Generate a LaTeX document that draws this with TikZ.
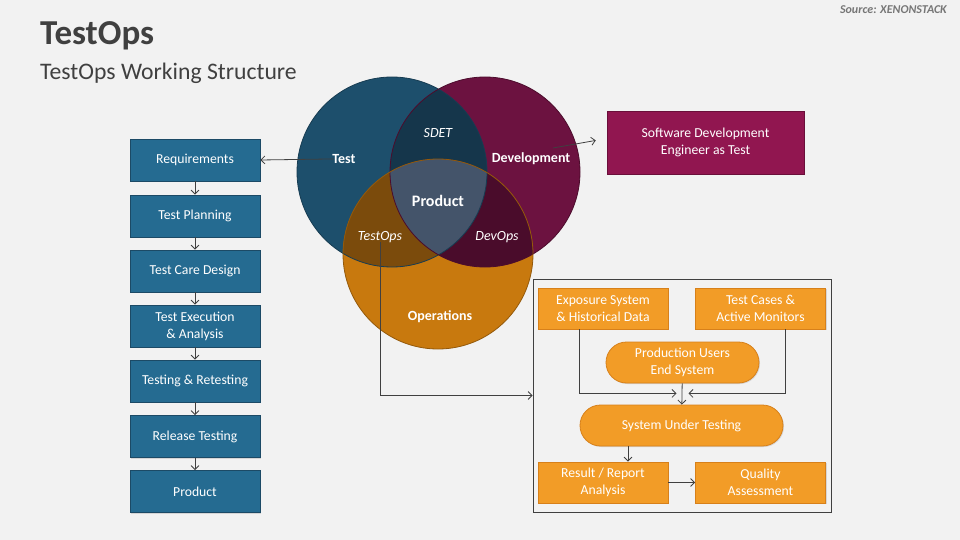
\documentclass[tikz,border=0pt]{standalone}
\usepackage{fontspec}
\setmainfont{Carlito}
\usetikzlibrary{arrows.meta,shapes.misc,shadows,calc}
\definecolor{bg}{HTML}{F2F2F2}
\definecolor{ink}{HTML}{404040}
\definecolor{srcgray}{HTML}{767676}
\definecolor{testc}{HTML}{1D4F6C}
\definecolor{testedge}{HTML}{173C52}
\definecolor{devc}{HTML}{6C1240}
\definecolor{devedge}{HTML}{4C0C2C}
\definecolor{opsc}{HTML}{C8790E}
\definecolor{opsedge}{HTML}{94590A}
\definecolor{sdetc}{HTML}{15364B}
\definecolor{testopsc}{HTML}{7B4B0C}
\definecolor{devopsc}{HTML}{4A0C2B}
\definecolor{prodc}{HTML}{44546A}
\definecolor{bluebox}{HTML}{256B91}
\definecolor{blueedge}{HTML}{1C4A66}
\definecolor{sdebox}{HTML}{911650}
\definecolor{sdeedge}{HTML}{6A0F3A}
\definecolor{orangebox}{HTML}{F29C27}
\definecolor{orangeedge}{HTML}{D7801A}
\tikzset{
  boxtext/.style={font=\fontsize{13.7}{17}\selectfont, text=white, align=center},
  stepbox/.style={boxtext, draw=blueedge, fill=bluebox, line width=0.8pt, minimum width=130pt, minimum height=42pt, inner sep=0pt, drop shadow={opacity=0.25, shadow xshift=1pt, shadow yshift=-1pt}},
  orangebox/.style={boxtext, draw=orangeedge, fill=orangebox, line width=0.8pt, minimum width=130pt, minimum height=41pt, inner sep=0pt, drop shadow={opacity=0.25, shadow xshift=1pt, shadow yshift=-1pt}},
  pill/.style={orangebox, rounded rectangle},
  vbold/.style={font=\fontsize{14}{16}\selectfont\bfseries, text=white},
  vital/.style={font=\fontsize{14}{16}\selectfont\itshape, text=white},
  conn/.style={draw=ink, line width=0.8pt},
  arr/.style={conn, -{Straight Barb[length=4pt,width=8pt]}},
}
\begin{document}
\begin{tikzpicture}[x=1pt,y=-1pt]
\useasboundingbox (0,0) rectangle (960,540);
\fill[bg] (0,0) rectangle (960,540);

% titles
\node[anchor=base west, inner sep=0pt, text=ink, font=\fontsize{35}{40}\selectfont\bfseries] (title) at (40,45) {TestOps};
\node[anchor=base west, inner sep=0pt, text=ink, font=\fontsize{23.7}{28}\selectfont] (subtitle) at (40,80) {TestOps Working Structure};
\node[anchor=base east, inner sep=0pt, text=srcgray, font=\fontsize{12}{14}\selectfont\bfseries\itshape] (source) at (947,14) {Source: XENONSTACK};

% Venn
\coordinate (T) at (392,172);
\coordinate (D) at (485,172);
\coordinate (O) at (438,254);
\fill[testc] (T) circle[radius=95];
\fill[devc] (D) circle[radius=95];
\fill[opsc] (O) circle[radius=95];
\begin{scope}\clip (T) circle[radius=95]; \fill[sdetc] (D) circle[radius=95];\end{scope}
\begin{scope}\clip (T) circle[radius=95]; \fill[testopsc] (O) circle[radius=95];\end{scope}
\begin{scope}\clip (D) circle[radius=95]; \fill[devopsc] (O) circle[radius=95];\end{scope}
\begin{scope}\clip (T) circle[radius=95]; \clip (D) circle[radius=95]; \fill[prodc] (O) circle[radius=95];\end{scope}
\draw[testedge, line width=0.8pt] (T) circle[radius=95];
\draw[devedge, line width=0.8pt] (D) circle[radius=95];
\draw[opsedge, line width=0.8pt] (O) circle[radius=95];

\node[vbold] (testlbl) at (344,159) {Test};
\node[vbold] (devlbl) at (531,159) {Development};
\node[vital] (sdet) at (438,133) {SDET};
\node[font=\fontsize{16}{18}\selectfont\bfseries, text=white] (product) at (438,201) {Product};
\node[vital] (testops) at (380,237) {TestOps};
\node[vital] (devops) at (497,237) {DevOps};
\node[vbold] (ops) at (440,317) {Operations};

% left column
\node[stepbox] (req) at (195,160) {Requirements};
\node[stepbox] (plan) at (195,216) {Test Planning};
\node[stepbox] (design) at (195,271) {Test Care Design};
\node[stepbox] (exec) at (195,326) {Test Execution\\\& Analysis};
\node[stepbox] (retest) at (195,381) {Testing \& Retesting};
\node[stepbox] (release) at (195,436.5) {Release Testing};
\node[stepbox] (prodbox) at (195,491.5) {Product};
\draw[arr, shorten <=-5pt] (testlbl.west) -- (req.east);
\draw[arr] (req) -- (plan);
\draw[arr] (plan) -- (design);
\draw[arr] (design) -- (exec);
\draw[arr] (exec) -- (retest);
\draw[arr] (retest) -- (release);
\draw[arr] (release) -- (prodbox);

% SDE box
\node[boxtext, draw=sdeedge, fill=sdebox, line width=0.8pt, minimum width=197pt, minimum height=63pt, inner sep=0pt, drop shadow={opacity=0.25, shadow xshift=1pt, shadow yshift=-1pt}] (sde) at (705.5,142.5) {Software Development\\Engineer as Test};
\coordinate (devstart) at (553,148);
\draw[arr, shorten >=11pt] (devstart) -- ($(sde.west)+(0,-4)$);

% right container
\node[draw=ink, line width=0.8pt, fill=bg, minimum width=298pt, minimum height=233pt, inner sep=0pt] (cont) at (682,395.5) {};
\draw[arr] ([yshift=4pt]testops.south) |- (cont.west);

\node[orangebox] (expo) at (603,308.5) {Exposure System\\\& Historical Data};
\node[orangebox] (tcases) at (760.5,308.5) {Test Cases \&\\Active Monitors};
\node[pill, minimum width=153pt] (produsers) at (682.5,362.5) {Production Users\\End System};
\node[pill, minimum width=203pt] (sut) at (681.5,425.5) {System Under Testing};
\node[orangebox] (result) at (603,482.5) {Result / Report\\Analysis};
\node[orangebox] (quality) at (760.5,482.5) {Quality\\Assessment};

\coordinate (merge) at ($(produsers.south)+(0,10)$);
\draw[arr, shorten >=6pt] ([xshift=-24pt]expo.south) |- (merge);
\draw[arr, shorten >=6pt] ([xshift=24.5pt]tcases.south) |- (merge);
\draw[arr] (produsers) -- (sut);
\draw[arr] ([xshift=25pt]result.north |- sut.south) -- ([xshift=25pt]result.north);
\draw[arr] (result) -- (quality);
\end{tikzpicture}
\end{document}
